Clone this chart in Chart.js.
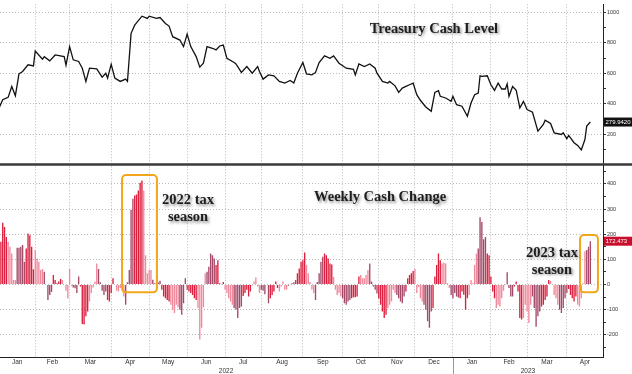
<!DOCTYPE html>
<html>
<head>
<meta charset="utf-8">
<title>Treasury Cash Level</title>
<style>
  html, body { margin: 0; padding: 0; background: #fff; }
  canvas { display: block; }
</style>
</head>
<body>
<canvas id="cashChart" width="632" height="374"></canvas>
<script src="https://cdn.jsdelivr.net/npm/chart.js@4"></script>
<script>
  // business-day index where each month starts, last entry is the right edge
  const monthStart = [0, 20, 39, 62, 83, 104, 125, 145, 168, 190, 210, 230, 251, 272, 292, 314, 334];
  const monthLabels = ['Jan', 'Feb', 'Mar', 'Apr', 'May', 'Jun', 'Jul', 'Aug', 'Sep', 'Oct', 'Nov', 'Dec', 'Jan', 'Feb', 'Mar', 'Apr'];
  const yearStart = [0, 251, 334];
  const yearLabels = ['2022', '2023'];

  // Treasury cash level (business-day index / value)
  const levelDay = [0, 2, 5, 7, 9, 11, 13, 16, 19, 20, 24, 25, 28, 31, 36, 37, 39, 41, 44, 46,
    48, 50, 54, 57, 59, 60, 62, 64, 67, 70, 71, 73, 75, 79, 82, 83, 87, 89, 92, 94,
    96, 100, 102, 104, 106, 109, 111, 113, 115, 118, 120, 122, 124, 126, 130, 131, 134, 137, 140, 143,
    144, 146, 149, 152, 155, 158, 161, 163, 165, 168, 170, 173, 175, 177, 180, 183, 185, 188, 192, 196,
    197, 199, 202, 205, 208, 209, 212, 215, 216, 219, 221, 223, 225, 227, 229, 231, 233, 236, 239, 241,
    243, 244, 247, 250, 251, 253, 256, 259, 261, 263, 265, 266, 267, 270, 272, 274, 276, 278, 280, 281,
    282, 284, 286, 288, 290, 292, 295, 298, 301, 302, 305, 307, 311, 312, 314, 315, 318, 320, 322, 324,
    325, 327];
  const levelValue = [372, 427, 442, 514, 453, 597, 612, 656, 649, 747, 693, 710, 682, 721, 710, 654, 776, 689, 678, 634,
    547, 634, 629, 575, 601, 569, 660, 569, 547, 562, 547, 863, 917, 976, 961, 976, 961, 967, 928, 911,
    841, 819, 776, 858, 776, 710, 641, 667, 776, 765, 754, 780, 786, 699, 671, 662, 606, 645, 601, 645,
    612, 562, 590, 584, 547, 536, 553, 536, 601, 671, 597, 590, 606, 671, 715, 699, 715, 667, 634, 627,
    590, 662, 645, 662, 634, 601, 547, 536, 547, 518, 475, 503, 514, 525, 536, 460, 423, 379, 351, 475,
    486, 449, 438, 416, 449, 394, 384, 318, 405, 460, 471, 584, 580, 584, 525, 488, 536, 497, 497, 531,
    449, 514, 488, 373, 416, 362, 344, 220, 264, 292, 270, 209, 198, 209, 170, 192, 144, 126, 96, 165,
    253, 279.942];

  // weekly cash change, one bar per business day starting at day 0
  const weeklyChange = [
    165, 170, 246, 229, 189, 170, 150, 124, 18, 18,
    146, 146, 150, 157, 91, 143, 203, 196, 150, 61,
    137, 104, 91, 58, 62, 51, 0, -61, -41, -30,
    38, 18, 5, 12, 22, 18, 0, -25, -54, 62,
    -4, -12, -15, -34, 32, -8, -157, -159, -126, -107,
    -67, -34, -12, 12, 84, 62, 9, -25, -41, -28,
    -61, -67, -34, 25, 2, -25, -28, -14, 0, -47,
    -80, 9, 58, 298, 341, 354, 358, 374, 405, 414,
    374, 117, 45, 58, 58, 19, 5, 5, 9, 15,
    -21, -47, -54, -61, -67, -80, -100, -113, -80, -90,
    -100, -120, -74, 25, -21, -28, -34, -41, -54, -61,
    -93, -218, -172, -90, 45, 51, 71, 124, 117, 104,
    78, 97, 5, 1, 10, -21, -34, -54, -67, -80,
    -93, -100, -133, -93, -87, -45, -34, -21, -47, -28,
    -4, 12, 28, -8, -34, -21, -25, -38, 0, -74,
    -54, -41, -28, 12, -14, -28, -8, 12, -21, -20,
    -5, 0, 5, 9, 18, 45, 64, 91, 97, 128,
    78, 45, 10, -21, -34, -61, 10, 45, 91, 111,
    124, 117, 104, 84, 80, 30, -21, -41, -34, -47,
    -54, -74, -80, -67, -61, -54, -50, -50, -47, 32,
    38, 25, 25, 38, 58, 84, 12, -8, -21, -35,
    -55, -80, -107, -133, -120, -93, -80, -67, -21, -34,
    -41, -54, -67, -74, -47, -28, 25, 38, 45, 54,
    62, -34, -10, -54, -67, -80, -100, -146, -172, -107,
    -93, 32, 78, 124, 97, 84, 88, 84, 5, -14,
    -41, -54, -34, -47, -51, -54, -28, -40, -100, -54,
    -41, 18, 5, 78, 124, 143, 268, 249, 180, 189,
    124, 117, 32, -28, -54, -93, -80, -87, -54, -25,
    -1, 49, -14, -47, -47, -8, 12, -28, -133, -139,
    -133, -80, -107, -153, -80, -47, -93, -168, -126, -107,
    -87, -80, -61, -47, 18, 14, -1, -41, -54, -80,
    -100, -113, -93, -54, -34, -18, -41, -54, -67, -47,
    -80, -87, -54, 5, 133, 137, 150, 172.473];

  // overlay texts and tax season boxes, in axis units
  const noteTexts = [
    { lines: ['Treasury Cash Level'], x: 240.5, y: 892, axis: 'yTop' },
    { lines: ['Weekly Cash Change'], x: 210.7, y: 346, axis: 'yBottom' },
    { lines: ['2022 tax', 'season'], x: 104.5, y: 334, axis: 'yBottom' },
    { lines: ['2023 tax', 'season'], x: 305.8, y: 126, axis: 'yBottom' }
  ];
  const seasonBoxes = [
    { from: 68, to: 87.3, top: 436, bottom: -31 },
    { from: 321.3, to: 331.2, top: 197, bottom: -31 }
  ];

  const barPalette = ['#dc1f3e', '#ef8a9d', '#a44a68'];
  const tickFont = { family: '"Liberation Sans Narrow", "Liberation Sans", sans-serif', size: 5.5 };
  const axisFont = { family: '"Liberation Sans Narrow", "Liberation Sans", sans-serif', size: 6.5, lineHeight: 1 };

  const mids = (starts) => starts.slice(0, -1).map((s, i) => (s + starts[i + 1]) / 2);

  // separator, season boxes, titles and last value tags
  const overlay = {
    id: 'overlay',
    afterDraw(chart) {
      const { ctx, chartArea, scales } = chart;
      const xs = scales.x;
      ctx.save();

      const sepY = scales.yTop.bottom;
      ctx.strokeStyle = '#3a3a3a';
      ctx.lineWidth = 2.5;
      ctx.beginPath();
      ctx.moveTo(0, sepY);
      ctx.lineTo(chart.width, sepY);
      ctx.stroke();

      const yx = Math.round(xs.getPixelForValue(yearStart[1])) + 0.5;
      ctx.strokeStyle = '#999';
      ctx.lineWidth = 1;
      ctx.beginPath();
      ctx.moveTo(yx, chartArea.bottom + 1);
      ctx.lineTo(yx, chart.height);
      ctx.stroke();

      ctx.strokeStyle = '#f3a61c';
      ctx.lineWidth = 2;
      seasonBoxes.forEach(b => {
        const x0 = xs.getPixelForValue(b.from), x1 = xs.getPixelForValue(b.to);
        const y0 = scales.yBottom.getPixelForValue(b.top), y1 = scales.yBottom.getPixelForValue(b.bottom);
        ctx.beginPath();
        ctx.roundRect(x0, y0, x1 - x0, y1 - y0, 4);
        ctx.stroke();
      });

      ctx.font = 'bold 14.5px "Liberation Serif", "Times New Roman", serif';
      ctx.textAlign = 'center';
      ctx.textBaseline = 'middle';
      ctx.fillStyle = '#1e1e1e';
      ctx.shadowColor = 'rgba(0,0,0,0.45)';
      ctx.shadowBlur = 3;
      ctx.shadowOffsetX = 1.5;
      ctx.shadowOffsetY = 1.5;
      noteTexts.forEach(n => {
        const px = xs.getPixelForValue(n.x);
        const py = scales[n.axis].getPixelForValue(n.y);
        n.lines.forEach((t, i) => ctx.fillText(t, px, py + i * 17));
      });
      ctx.shadowColor = 'rgba(0,0,0,0)';

      const tag = (scale, value, text, color) => {
        const py = scale.getPixelForValue(value);
        ctx.fillStyle = color;
        ctx.fillRect(scale.left + 1, py - 4.5, chart.width - scale.left - 1, 9);
        ctx.fillStyle = '#fff';
        ctx.font = '6px "Liberation Sans Narrow", "Liberation Sans", sans-serif';
        ctx.textAlign = 'left';
        ctx.fillText(text, scale.left + 2.5, py + 0.5);
      };
      const lastLevel = levelValue[levelValue.length - 1];
      const lastChange = weeklyChange[weeklyChange.length - 1];
      tag(scales.yTop, lastLevel, lastLevel.toFixed(4), '#111');
      tag(scales.yBottom, lastChange, lastChange.toFixed(3), '#c8102e');
      ctx.restore();
    }
  };

  new Chart(document.getElementById('cashChart'), {
    type: 'bar',
    data: {
      datasets: [{
        type: 'line',
        label: 'Treasury Cash Level',
        data: levelDay.map((d, i) => ({ x: d, y: levelValue[i] })),
        xAxisID: 'x',
        yAxisID: 'yTop',
        borderColor: '#111',
        borderWidth: 1.3,
        pointRadius: 0,
        tension: 0
      }, {
        type: 'bar',
        label: 'Weekly Cash Change',
        data: weeklyChange.map((v, i) => ({ x: i, y: v })),
        xAxisID: 'x',
        yAxisID: 'yBottom',
        backgroundColor: weeklyChange.map((v, i) => barPalette[Math.floor(i / 5) % 3]),
        borderWidth: 0,
        barPercentage: 0.75,
        categoryPercentage: 1
      }]
    },
    options: {
      responsive: false,
      animation: false,
      layout: { padding: 0 },
      plugins: {
        legend: { display: false },
        tooltip: { enabled: false }
      },
      scales: {
        x: {
          type: 'linear', position: 'bottom', min: 0.5, max: 334, offset: false,
          grid: { color: '#b8b8b8', drawTicks: false, offset: false },
          border: { color: '#222', width: 1, dash: [1, 2] },
          ticks: { display: false },
          afterBuildTicks: s => { s.ticks = monthStart.slice(1, -1).map(v => ({ value: v })); }
        },
        xMonth: {
          type: 'linear', position: 'bottom', min: 0.5, max: 334, offset: false,
          grid: { display: false, drawTicks: false },
          border: { display: false },
          ticks: { font: axisFont, color: '#333', padding: 2, maxRotation: 0, autoSkip: false,
            callback: (v, i) => monthLabels[i] },
          afterBuildTicks: s => { s.ticks = mids(monthStart).map(v => ({ value: v })); }
        },
        xYear: {
          type: 'linear', position: 'bottom', min: 0.5, max: 334, offset: false,
          grid: { display: false, drawTicks: false },
          border: { display: false },
          ticks: { font: axisFont, color: '#333', padding: 0, maxRotation: 0, autoSkip: false,
            callback: (v, i) => yearLabels[i] },
          afterBuildTicks: s => { s.ticks = mids(yearStart).map(v => ({ value: v })); }
        },
        yTop: {
          type: 'linear', position: 'right', stack: 'panes', stackWeight: 1,
          min: 0, max: 1054,
          grid: {
            color: c => (c.tick && c.tick.value % 200 === 0 && c.tick.value > 0) ? '#b8b8b8' : 'rgba(0,0,0,0)',
            tickColor: '#333', tickLength: 3
          },
          border: { color: '#222', width: 1, dash: [1, 2] },
          ticks: { font: tickFont, color: '#333', padding: 1, autoSkip: false,
            callback: v => (v % 200 === 0 && v > 0) ? String(v) : '' },
          afterBuildTicks: s => {
            const t = [];
            for (let v = 0; v <= 1000; v += 100) t.push({ value: v });
            s.ticks = t;
          },
          afterFit: s => { s.width = 29; }
        },
        yBottom: {
          type: 'linear', position: 'right', stack: 'panes', stackWeight: 1.2,
          min: -288, max: 477,
          grid: {
            color: c => (c.tick && c.tick.value % 100 === 0) ? '#b8b8b8' : 'rgba(0,0,0,0)',
            tickColor: '#333', tickLength: 3
          },
          border: { color: '#222', width: 1, dash: [1, 2] },
          ticks: { font: tickFont, color: '#333', padding: 1, autoSkip: false,
            callback: v => (v % 100 === 0) ? String(v) : '' },
          afterBuildTicks: s => {
            const t = [];
            for (let v = -250; v <= 450; v += 50) t.push({ value: v });
            s.ticks = t;
          },
          afterFit: s => { s.width = 29; }
        }
      }
    },
    plugins: [overlay]
  });
</script>
</body>
</html>
